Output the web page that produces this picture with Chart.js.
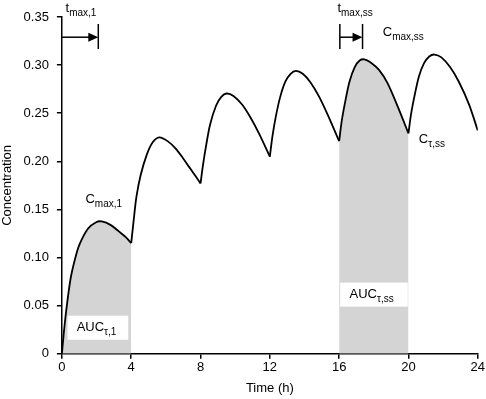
<!DOCTYPE html>
<html>
<head>
<meta charset="utf-8">
<script src="https://cdn.jsdelivr.net/npm/chart.js@4.4.1/dist/chart.umd.min.js"></script>
<style>
  html, body { margin: 0; padding: 0; background: #fff; }
  #wrap { width: 486px; height: 399px; }
</style>
</head>
<body>
<div id="wrap"><canvas id="pkChart"></canvas></div>
<script>
"use strict";

// concentration, one array per dosing interval: [time (h), conc]
const dose1 = [[0, 0], [0.1, 0.02], [0.25, 0.045], [0.5, 0.078], [0.75, 0.098], [1.0, 0.113], [1.5, 0.130], [2.0, 0.137], [2.3, 0.1375], [2.8, 0.134], [3.3, 0.127], [3.7, 0.121], [4.0, 0.115]];
const dose2 = [[4.0, 0.115], [4.15, 0.140], [4.3, 0.163], [4.55, 0.186], [4.9, 0.207], [5.25, 0.220], [5.62, 0.225], [6.1, 0.221], [6.58, 0.213], [7.0, 0.203], [7.35, 0.194], [7.7, 0.185], [8.0, 0.177]];
const dose3 = [[8.0, 0.177], [8.15, 0.197], [8.3, 0.214], [8.55, 0.238], [8.9, 0.258], [9.2, 0.267], [9.5, 0.2705], [9.9, 0.268], [10.4, 0.259], [10.9, 0.245], [11.4, 0.228], [12.0, 0.205]];
const dose4 = [[12.0, 0.205], [12.15, 0.226], [12.35, 0.247], [12.6, 0.267], [12.9, 0.283], [13.2, 0.291], [13.5, 0.294], [13.9, 0.291], [14.35, 0.282], [14.85, 0.267], [15.4, 0.246], [16.0, 0.221]];
const dose5 = [[16.0, 0.221], [16.15, 0.242], [16.35, 0.262], [16.6, 0.283], [16.9, 0.298], [17.2, 0.305], [17.45, 0.306], [17.8, 0.303], [18.3, 0.295], [18.8, 0.281], [19.4, 0.256], [20.0, 0.229]];
const dose6 = [[20.0, 0.229], [20.15, 0.249], [20.35, 0.268], [20.6, 0.288], [20.9, 0.302], [21.2, 0.309], [21.5, 0.311], [21.9, 0.308], [22.4, 0.298], [22.9, 0.283], [23.5, 0.259], [24.0, 0.232]];

const shadedIntervals = [0, 4]; // which dose arrays get the AUC fill

const xTickValues = [0, 4, 8, 12, 16, 20, 24];
const yTickValues = [0, 0.05, 0.10, 0.15, 0.20, 0.25, 0.30, 0.35];

const FONT = "'Liberation Sans', Arial, Helvetica, sans-serif";

function toPoints(arr) {
  return arr.map((p) => ({ x: p[0], y: p[1] }));
}

const allDoses = [dose1, dose2, dose3, dose4, dose5, dose6];

const datasets = allDoses.map((d, i) => {
  const shaded = shadedIntervals.includes(i);
  return {
    data: toPoints(d),
    borderColor: "#000",
    borderWidth: 1.8,
    pointRadius: 0,
    tension: 0.3,
    fill: shaded ? "origin" : false,
    backgroundColor: "#d4d4d4",
  };
});

// text with a subscript, like C_max,1
function subText(ctx, main, sub, x, y) {
  ctx.font = "13px " + FONT;
  ctx.fillText(main, x, y);
  const w = ctx.measureText(main).width;
  ctx.font = "10px " + FONT;
  ctx.fillText(sub, x + w, y + 4);
}

function arrowRight(ctx, x0, x1, y) {
  ctx.beginPath();
  ctx.moveTo(x0, y);
  ctx.lineTo(x1 - 8, y);
  ctx.stroke();
  ctx.beginPath();
  ctx.moveTo(x1, y);
  ctx.lineTo(x1 - 10, y - 4.5);
  ctx.lineTo(x1 - 10, y + 4.5);
  ctx.closePath();
  ctx.fill();
}

function vBar(ctx, x, y0, y1) {
  ctx.beginPath();
  ctx.moveTo(x, y0);
  ctx.lineTo(x, y1);
  ctx.stroke();
}

const annotations = {
  id: "pkAnnotations",
  afterDatasetsDraw(chart) {
    const ctx = chart.ctx;
    const xs = chart.scales.x;
    const ys = chart.scales.y;
    const X = (v) => xs.getPixelForValue(v);
    const Y = (v) => ys.getPixelForValue(v);

    ctx.save();
    ctx.fillStyle = "#000";
    ctx.strokeStyle = "#000";
    ctx.lineWidth = 1.5;
    ctx.textBaseline = "alphabetic";
    ctx.textAlign = "left";

    // t_max,1 marker
    arrowRight(ctx, X(0), X(2.1), Y(0.329));
    vBar(ctx, X(2.1), Y(0.3427), Y(0.3167));
    subText(ctx, "t", "max,1", X(0.21), Y(0.355));

    // t_max,ss marker
    vBar(ctx, X(16.04), Y(0.3427), Y(0.3167));
    vBar(ctx, X(17.35), Y(0.3427), Y(0.3167));
    arrowRight(ctx, X(16.04), X(17.35), Y(0.329));
    subText(ctx, "t", "max,ss", X(15.9), Y(0.355));

    subText(ctx, "C", "max,ss", X(18.52), Y(0.330));
    subText(ctx, "C", "\u03c4,ss", X(20.6), Y(0.219));
    subText(ctx, "C", "max,1", X(1.36), Y(0.157));

    // AUC boxes
    ctx.fillStyle = "#fff";
    ctx.fillRect(X(0.33), Y(0.0396), X(3.83) - X(0.33), Y(0.0146) - Y(0.0396));
    ctx.fillRect(X(16.06), Y(0.074), X(19.96) - X(16.06), Y(0.049) - Y(0.074));
    ctx.fillStyle = "#000";
    subText(ctx, "AUC", "\u03c4,1", X(0.85), Y(0.0239));
    subText(ctx, "AUC", "\u03c4,ss", X(16.6), Y(0.058));

    ctx.restore();
  },
};

const axisCommon = {
  grid: { drawOnChartArea: false, drawTicks: true, tickLength: 5, color: "#000", lineWidth: 1.5 },
  border: { color: "#000", width: 1.5 },
};

new Chart(document.getElementById("pkChart"), {
  type: "line",
  data: { datasets: datasets },
  options: {
    responsive: true,
    maintainAspectRatio: false,
    animation: false,
    layout: { padding: { top: 17, right: 8, bottom: 3, left: 0 } },
    plugins: { legend: { display: false }, tooltip: { enabled: false } },
    scales: {
      x: {
        type: "linear",
        min: 0,
        max: 24,
        afterBuildTicks: (scale) => {
          scale.ticks = xTickValues.map((v) => ({ value: v }));
        },
        ticks: { color: "#000", font: { family: FONT, size: 13 }, padding: 1, maxRotation: 0 },
        title: { display: true, text: "Time (h)", color: "#000", font: { family: FONT, size: 13 }, padding: { top: 4, bottom: 0 } },
        ...axisCommon,
      },
      y: {
        min: 0,
        max: 0.35,
        afterBuildTicks: (scale) => {
          scale.ticks = yTickValues.map((v) => ({ value: v }));
        },
        ticks: {
          color: "#000",
          font: { family: FONT, size: 13 },
          padding: 8,
          callback: (v) => (v === 0 ? "0" : v.toFixed(2)),
        },
        title: { display: true, text: "Concentration", color: "#000", font: { family: FONT, size: 13 }, padding: { top: 0, bottom: 0 } },
        ...axisCommon,
      },
    },
  },
  plugins: [annotations],
});
</script>
</body>
</html>
